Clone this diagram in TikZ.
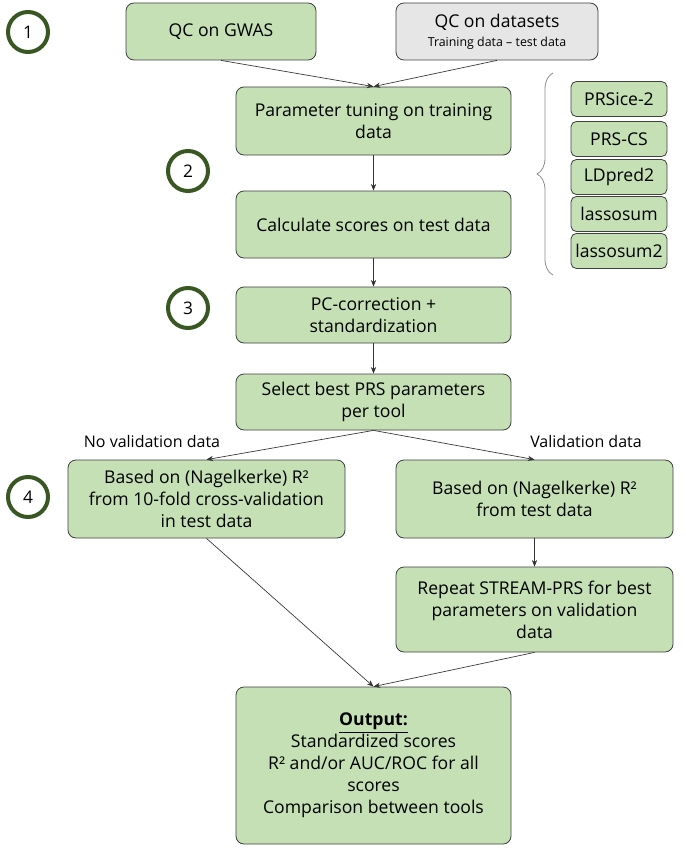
\documentclass[tikz,border=0pt]{standalone}
\usepackage{fontspec}
\setmainfont{Open Sans}
\usetikzlibrary{arrows.meta,decorations.pathreplacing}
\definecolor{gfill}{HTML}{C5E0B4}
\definecolor{gray1}{HTML}{E7E6E6}
\definecolor{dgreen}{HTML}{385723}
\begin{document}
\begin{tikzpicture}[x=0.75pt,y=-0.75pt,
 box/.style={draw=black!75,line width=0.6pt,fill=gfill,rounded corners=6pt,align=center,font=\fontsize{13.2}{16.5}\selectfont,inner sep=2pt},
 tool/.style={box,minimum width=96*0.75pt,minimum height=35*0.75pt,rounded corners=4pt},
 num/.style={circle,draw=dgreen,line width=3pt,fill=white,minimum size=40*0.75pt,inner sep=0pt,font=\fontsize{13}{16}\selectfont},
 arr/.style={-{Stealth[length=5pt,width=4pt]},line width=0.5pt,black!80},
 lab/.style={font=\fontsize{12}{14}\selectfont}]
\useasboundingbox (0,0) rectangle (685,849);
\newcommand{\bx}[6]{\node[box,#6,minimum width={(#4-#2)*0.75pt},minimum height={(#5-#3)*0.75pt}] (#1) at ({(#2+#4)/2},{(#3+#5)/2})}
\bx{gwas}{126}{3}{316}{60}{}{QC on GWAS};
\bx{data}{396}{3}{598}{60}{fill=gray1}{QC on datasets\\[-2pt]{\fontsize{9.3}{11}\selectfont Training data -- test data}};
\bx{tune}{236}{87}{511}{155}{}{Parameter tuning on training\\data};
\bx{calc}{236}{191}{511}{258}{}{Calculate scores on test data};
\bx{pc}{236}{287}{511}{343}{}{PC-correction +\\standardization};
\bx{sel}{236}{374}{511}{430}{}{Select best PRS parameters\\per tool};
\bx{left}{68}{460}{345}{538}{}{Based on (Nagelkerke) R²\\from 10-fold cross-validation\\in test data};
\bx{right}{396}{460}{673}{538}{}{Based on (Nagelkerke) R²\\from test data};
\bx{rep}{396}{567}{673}{652}{}{Repeat STREAM-PRS for best\\parameters on validation\\data};
\bx{out}{236}{687}{511}{844}{}{\textbf{\underline{Output:}}\\Standardized scores\\R² and/or AUC/ROC for all\\scores\\Comparison between tools};
\node[num] (n1) at (28,32) {1};
\node[num] (n2) at (188,171) {2};
\node[num] (n3) at (188,308) {3};
\node[num] (n4) at (28,497) {4};
\node[tool] (t1) at (619,99) {PRSice-2};
\node[tool] (t2) at (619,139) {PRS-CS};
\node[tool] (t3) at (619,177) {LDpred2};
\node[tool] (t4) at (619,214) {lassosum};
\node[tool] (t5) at (619,251) {lassosum2};
\node[lab] (l1) at (152,441) {No validation data};
\node[lab] (l2) at (586,441) {Validation data};
\coordinate (bt) at (553,73);
\coordinate (bb) at (553,275);
\draw[black!45,line width=0.6pt,decorate,decoration={brace,amplitude=12pt}] (bb) -- (bt);
\draw[arr] (gwas.south) -- (tune.north);
\draw[arr] (data.south) -- (tune.north);
\draw[arr] (tune) -- (calc);
\draw[arr] (calc) -- (pc);
\draw[arr] (pc) -- (sel);
\draw[arr] (sel.south) -- (left.north);
\draw[arr] (sel.south) -- (right.north);
\draw[arr] (right) -- (rep);
\draw[arr] (left.south) -- (out.north);
\draw[arr] (rep.south) -- (out.north);
\end{tikzpicture}
\end{document}
